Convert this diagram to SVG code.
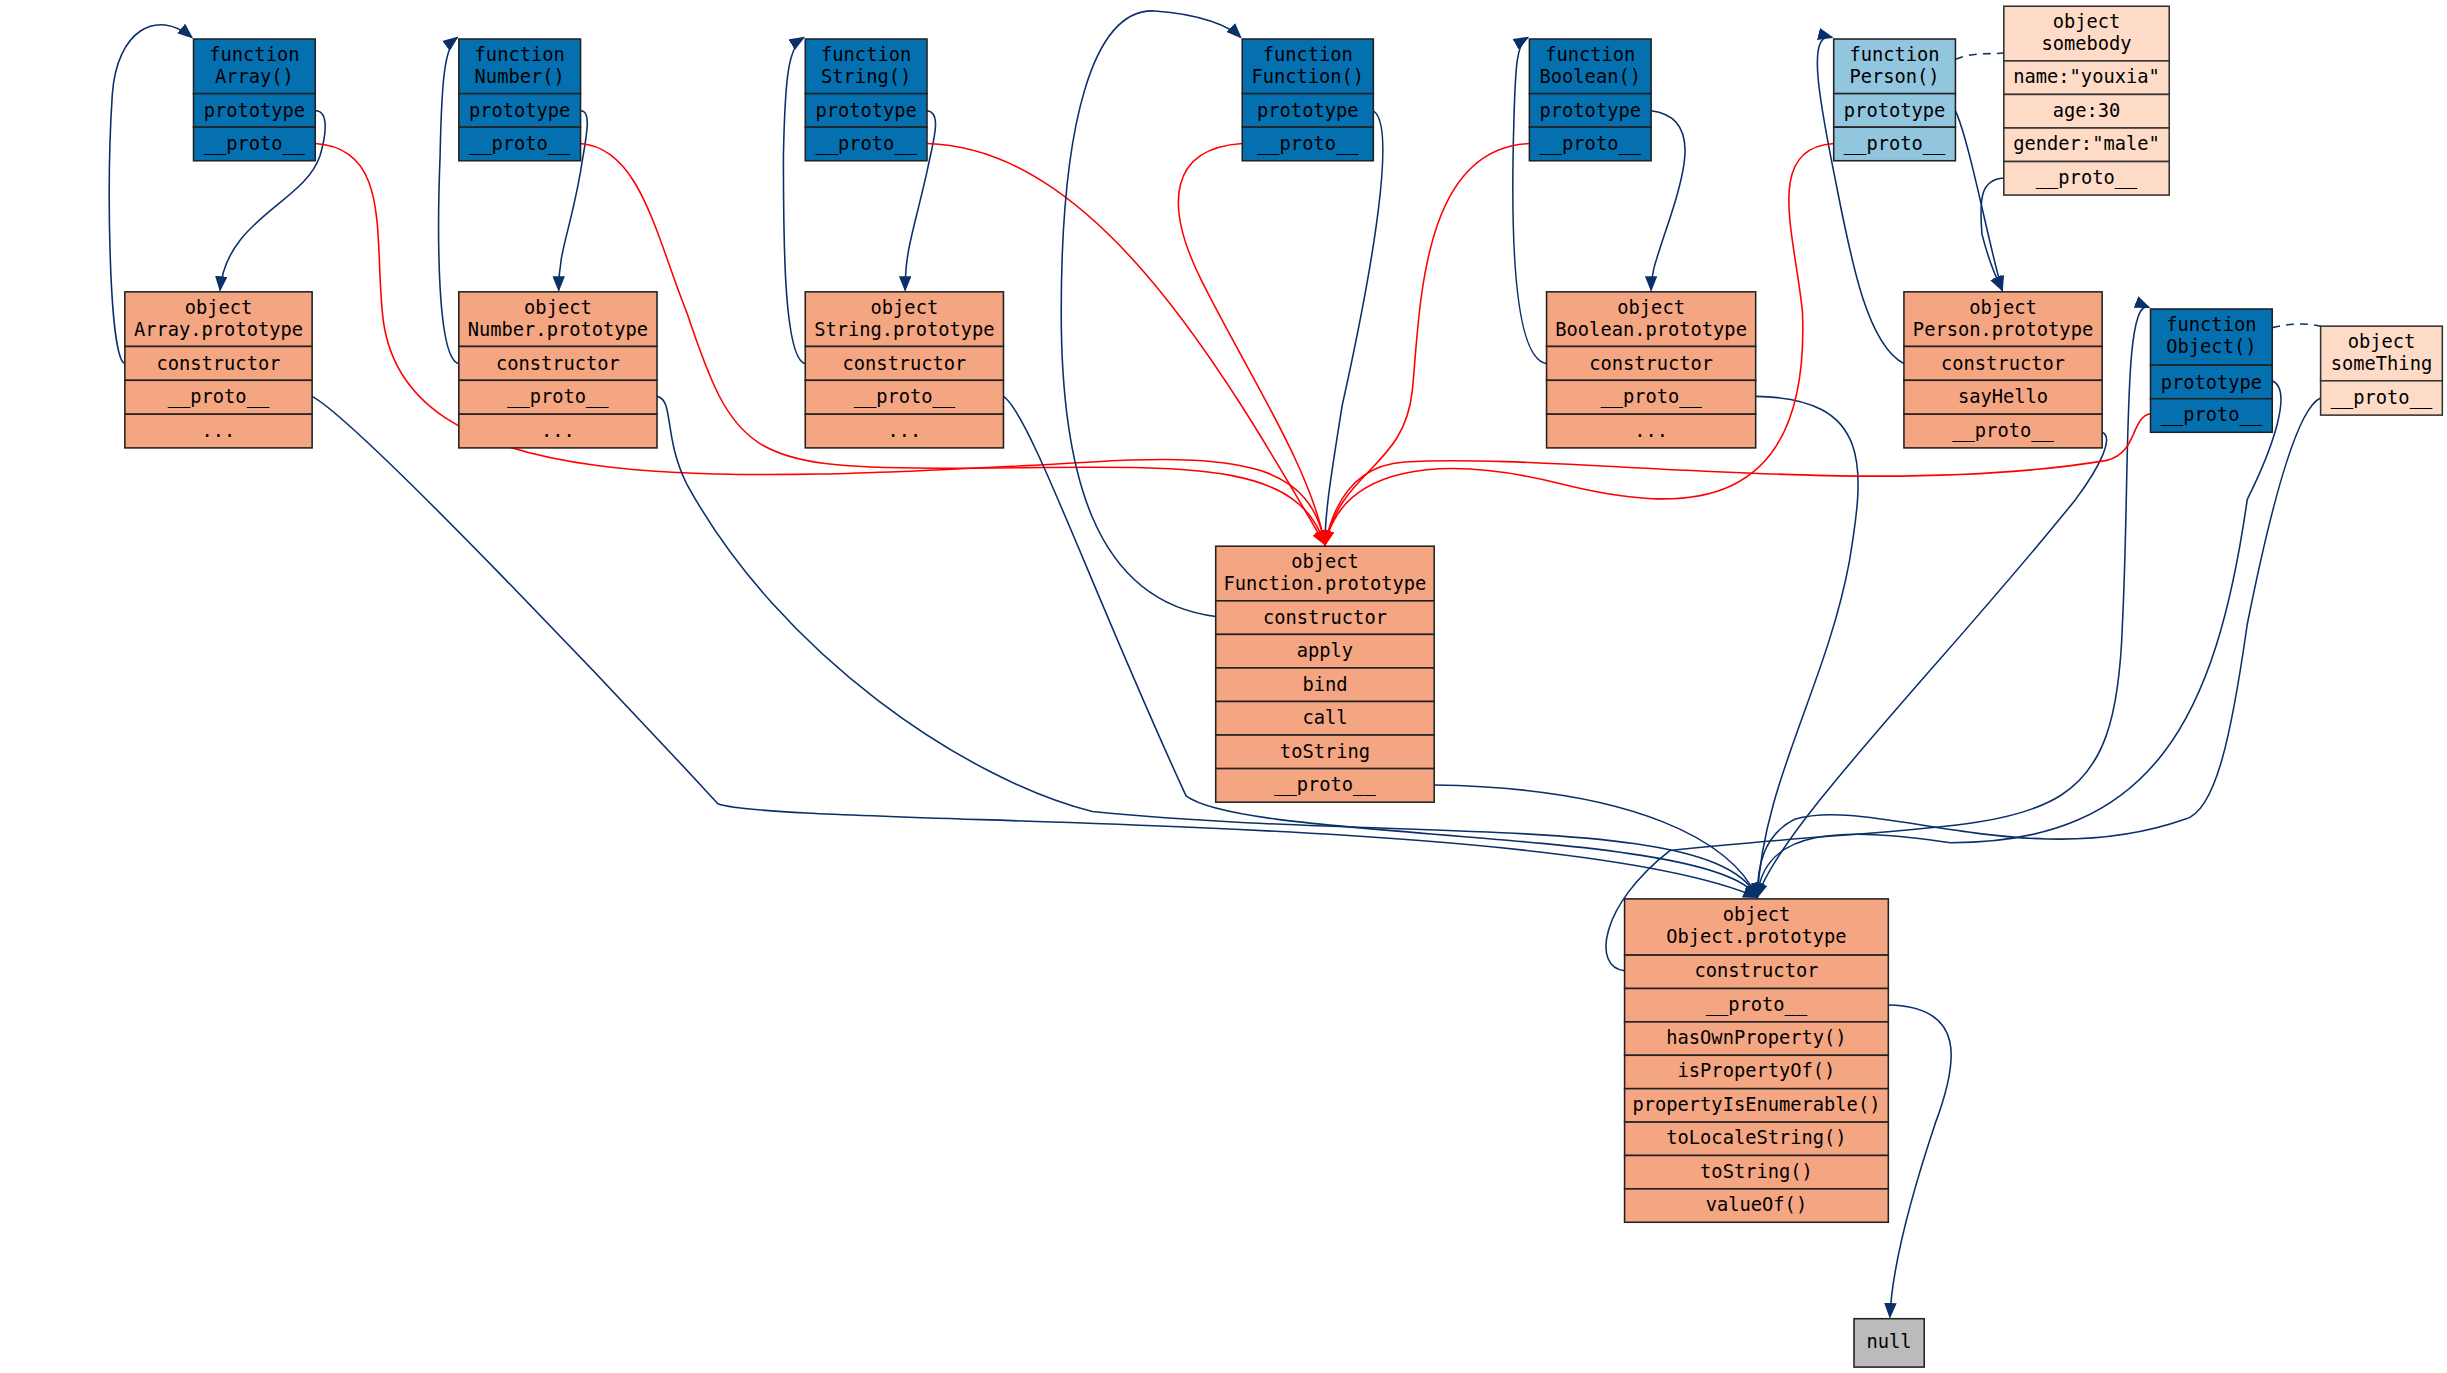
<svg xmlns="http://www.w3.org/2000/svg" width="2447" height="1373" viewBox="0 0 2447 1373">
<style>
text{font-family:"DejaVu Sans Mono","Liberation Mono",monospace;font-size:12px;text-anchor:middle;fill:#000}
.fn rect{fill:#0570b0;stroke:#222;stroke-width:1}
.fl rect{fill:#92c5de;stroke:#222;stroke-width:1}
.ob rect{fill:#f4a582;stroke:#222;stroke-width:1}
.ol rect{fill:#fddbc7;stroke:#333;stroke-width:1}
.nl rect{fill:#bbbbbb;stroke:#222;stroke-width:1}
.e{fill:none;stroke:#0a3069;stroke-width:1}
.r{fill:none;stroke:#ff0000;stroke-width:1}
.d{fill:none;stroke:#0a3069;stroke-width:1;stroke-dasharray:5,4}
</style>
<defs>
<marker id="a" markerWidth="10" markerHeight="8" refX="9" refY="4" orient="auto" markerUnits="userSpaceOnUse"><path d="M0,0L10,4L0,8z" fill="#0a3069"/></marker>
<marker id="ar" markerWidth="10" markerHeight="8" refX="9" refY="4" orient="auto" markerUnits="userSpaceOnUse"><path d="M0,0L10,4L0,8z" fill="#ff0000"/></marker>
</defs>
<rect width="2447" height="1373" fill="#fff"/>
<g transform="scale(1.5606)">
<g id="connectors">
<path class="e" marker-end="url(#a)" d="M202,71 C212,71 208,90 205,100 C195,130 145,140 141,186"/>
<path class="e" marker-end="url(#a)" d="M80,233 C70,230 68,120 72,60 C75,20 100,5 123,24"/>
<path class="r" marker-end="url(#ar)" d="M202,92 C250,95 240,150 245,200 C255,320 450,310 700,296 C800,290 840,300 849,349"/>
<path class="e" marker-end="url(#a)" d="M200,254 C230,270 400,450 460,515 C500,530 1000,520 1126,575"/>
<path class="e" marker-end="url(#a)" d="M372,71 C380,71 375,90 372,110 C365,150 358,160 358,186"/>
<path class="e" marker-end="url(#a)" d="M294,233 C280,230 280,150 282,100 C283,50 285,30 293,24"/>
<path class="r" marker-end="url(#ar)" d="M372,92 C410,95 420,150 440,200 C470,290 480,300 600,300 C750,300 830,290 849,349"/>
<path class="e" marker-end="url(#a)" d="M421,254 C432,256 425,280 440,310 C500,420 620,500 700,520 C900,540 1100,520 1126,575"/>
<path class="e" marker-end="url(#a)" d="M594,71 C604,72 598,90 594,110 C585,150 580,160 580,186"/>
<path class="e" marker-end="url(#a)" d="M516,233 C502,230 502,150 502,100 C503,50 505,30 515,24"/>
<path class="r" marker-end="url(#ar)" d="M594,92 C700,95 780,230 849,349"/>
<path class="e" marker-end="url(#a)" d="M643,254 C660,265 700,380 760,510 C800,540 1100,530 1126,575"/>
<path class="e" marker-end="url(#a)" d="M779,395 C700,385 680,300 680,200 C680,80 700,5 740,7 C770,9 788,17 795,24"/>
<path class="e" marker-end="url(#a)" d="M880,71 C895,80 880,170 860,260 C852,310 849,330 849,349"/>
<path class="r" marker-end="url(#ar)" d="M796,92 C750,95 745,130 770,180 C800,240 840,300 849,349"/>
<path class="e" marker-end="url(#a)" d="M1058,71 C1090,75 1080,110 1070,140 C1060,170 1058,175 1058,186"/>
<path class="e" marker-end="url(#a)" d="M991,233 C970,230 968,150 970,80 C971,40 972,28 979,24"/>
<path class="r" marker-end="url(#ar)" d="M980,92 C910,95 910,200 905,250 C900,300 860,300 849,349"/>
<path class="e" marker-end="url(#a)" d="M1125,254 C1200,255 1195,300 1185,360 C1170,440 1130,500 1126,575"/>
<path class="e" marker-end="url(#a)" d="M1253,71 C1262,90 1275,160 1283,186"/>
<path class="e" marker-end="url(#a)" d="M1220,233 C1195,220 1185,160 1175,110 C1165,60 1158,20 1174,24"/>
<path class="r" marker-end="url(#ar)" d="M1175,92 C1130,95 1150,150 1155,200 C1160,330 1080,330 1000,310 C920,290 860,300 849,349"/>
<path class="e" marker-end="url(#a)" d="M1284,114 C1270,115 1268,125 1270,150 C1275,170 1280,180 1283,186"/>
<path class="d" d="M1253,38 C1265,33 1275,35 1284,34"/>
<path class="e" marker-end="url(#a)" d="M1347,277 C1355,280 1345,300 1330,320 C1250,420 1140,530 1126,575"/>
<path class="e" marker-end="url(#a)" d="M1456,244 C1470,250 1455,290 1440,320 C1420,460 1380,540 1250,540 C1180,530 1130,530 1126,575"/>
<path class="e" marker-end="url(#a)" d="M1041,622 C1020,620 1025,580 1070,545 C1300,520 1355,550 1360,400 C1365,300 1360,190 1377,197"/>
<path class="r" marker-end="url(#ar)" d="M1378,265 C1365,268 1370,290 1350,295 C1200,320 1000,290 900,296 C870,298 855,320 849,349"/>
<path class="d" d="M1456,210 C1468,207 1478,207 1487,209"/>
<path class="e" marker-end="url(#a)" d="M1487,255 C1475,260 1460,300 1440,400 C1430,470 1420,520 1400,525 C1300,560 1200,510 1150,525 C1130,535 1126,555 1126,575"/>
<path class="e" marker-end="url(#a)" d="M919,503 C1050,505 1110,540 1126,575"/>
<path class="e" marker-end="url(#a)" d="M1210,644 C1260,645 1255,680 1240,720 C1220,780 1212,820 1211,844"/>
</g>

<g id="fnArray" class="fn"><rect x="124" y="25" width="78" height="35"/><rect x="124" y="60" width="78" height="21.5"/><rect x="124" y="81.5" width="78" height="21.5"/>
<text x="163" y="39">function</text><text x="163" y="53">Array()</text><text x="163" y="75">prototype</text><text x="163" y="96">__proto__</text></g>
<g id="fnNumber" class="fn"><rect x="294" y="25" width="78" height="35"/><rect x="294" y="60" width="78" height="21.5"/><rect x="294" y="81.5" width="78" height="21.5"/>
<text x="333" y="39">function</text><text x="333" y="53">Number()</text><text x="333" y="75">prototype</text><text x="333" y="96">__proto__</text></g>
<g id="fnString" class="fn"><rect x="516" y="25" width="78" height="35"/><rect x="516" y="60" width="78" height="21.5"/><rect x="516" y="81.5" width="78" height="21.5"/>
<text x="555" y="39">function</text><text x="555" y="53">String()</text><text x="555" y="75">prototype</text><text x="555" y="96">__proto__</text></g>
<g id="fnFunction" class="fn"><rect x="796" y="25" width="84" height="35"/><rect x="796" y="60" width="84" height="21.5"/><rect x="796" y="81.5" width="84" height="21.5"/>
<text x="838" y="39">function</text><text x="838" y="53">Function()</text><text x="838" y="75">prototype</text><text x="838" y="96">__proto__</text></g>
<g id="fnBoolean" class="fn"><rect x="980" y="25" width="78" height="35"/><rect x="980" y="60" width="78" height="21.5"/><rect x="980" y="81.5" width="78" height="21.5"/>
<text x="1019" y="39">function</text><text x="1019" y="53">Boolean()</text><text x="1019" y="75">prototype</text><text x="1019" y="96">__proto__</text></g>
<g id="fnPerson" class="fl"><rect x="1175" y="25" width="78" height="35"/><rect x="1175" y="60" width="78" height="21.5"/><rect x="1175" y="81.5" width="78" height="21.5"/>
<text x="1214" y="39">function</text><text x="1214" y="53">Person()</text><text x="1214" y="75">prototype</text><text x="1214" y="96">__proto__</text></g>
<g id="fnObject" class="fn"><rect x="1378" y="198" width="78" height="36"/><rect x="1378" y="234" width="78" height="21.5"/><rect x="1378" y="255.5" width="78" height="21.5"/>
<text x="1417" y="212">function</text><text x="1417" y="226">Object()</text><text x="1417" y="249">prototype</text><text x="1417" y="270">__proto__</text></g>

<g id="somebody" class="ol"><rect x="1284" y="4" width="106" height="35"/><rect x="1284" y="39" width="106" height="21.5"/><rect x="1284" y="60.5" width="106" height="21.5"/><rect x="1284" y="82" width="106" height="21.5"/><rect x="1284" y="103.5" width="106" height="21.5"/>
<text x="1337" y="18">object</text><text x="1337" y="32">somebody</text><text x="1337" y="53">name:"youxia"</text><text x="1337" y="75">age:30</text><text x="1337" y="96">gender:"male"</text><text x="1337" y="118">__proto__</text></g>
<g id="someThing" class="ol"><rect x="1487" y="209" width="78" height="35"/><rect x="1487" y="244" width="78" height="22"/>
<text x="1526" y="223">object</text><text x="1526" y="237">someThing</text><text x="1526" y="259">__proto__</text></g>

<g id="ArrayPrototype" class="ob"><rect x="80" y="187" width="120" height="35"/><rect x="80" y="222" width="120" height="21.7"/><rect x="80" y="243.7" width="120" height="21.7"/><rect x="80" y="265.4" width="120" height="21.6"/>
<text x="140" y="201">object</text><text x="140" y="215">Array.prototype</text><text x="140" y="237">constructor</text><text x="140" y="258">__proto__</text><text x="140" y="280">...</text></g>
<g id="NumberPrototype" class="ob"><rect x="294" y="187" width="127" height="35"/><rect x="294" y="222" width="127" height="21.7"/><rect x="294" y="243.7" width="127" height="21.7"/><rect x="294" y="265.4" width="127" height="21.6"/>
<text x="357.5" y="201">object</text><text x="357.5" y="215">Number.prototype</text><text x="357.5" y="237">constructor</text><text x="357.5" y="258">__proto__</text><text x="357.5" y="280">...</text></g>
<g id="StringPrototype" class="ob"><rect x="516" y="187" width="127" height="35"/><rect x="516" y="222" width="127" height="21.7"/><rect x="516" y="243.7" width="127" height="21.7"/><rect x="516" y="265.4" width="127" height="21.6"/>
<text x="579.5" y="201">object</text><text x="579.5" y="215">String.prototype</text><text x="579.5" y="237">constructor</text><text x="579.5" y="258">__proto__</text><text x="579.5" y="280">...</text></g>
<g id="BooleanPrototype" class="ob"><rect x="991" y="187" width="134" height="35"/><rect x="991" y="222" width="134" height="21.7"/><rect x="991" y="243.7" width="134" height="21.7"/><rect x="991" y="265.4" width="134" height="21.6"/>
<text x="1058" y="201">object</text><text x="1058" y="215">Boolean.prototype</text><text x="1058" y="237">constructor</text><text x="1058" y="258">__proto__</text><text x="1058" y="280">...</text></g>
<g id="PersonPrototype" class="ob"><rect x="1220" y="187" width="127" height="35"/><rect x="1220" y="222" width="127" height="21.7"/><rect x="1220" y="243.7" width="127" height="21.7"/><rect x="1220" y="265.4" width="127" height="21.6"/>
<text x="1283.5" y="201">object</text><text x="1283.5" y="215">Person.prototype</text><text x="1283.5" y="237">constructor</text><text x="1283.5" y="258">sayHello</text><text x="1283.5" y="280">__proto__</text></g>

<g id="FunctionPrototype" class="ob"><rect x="779" y="350" width="140" height="35"/><rect x="779" y="385" width="140" height="21.5"/><rect x="779" y="406.5" width="140" height="21.5"/><rect x="779" y="428" width="140" height="21.5"/><rect x="779" y="449.5" width="140" height="21.5"/><rect x="779" y="471" width="140" height="21.5"/><rect x="779" y="492.5" width="140" height="21.5"/>
<text x="849" y="364">object</text><text x="849" y="378">Function.prototype</text><text x="849" y="400">constructor</text><text x="849" y="421">apply</text><text x="849" y="443">bind</text><text x="849" y="464">call</text><text x="849" y="486">toString</text><text x="849" y="507">__proto__</text></g>

<g id="ObjectPrototype" class="ob"><rect x="1041" y="576" width="169" height="36"/><rect x="1041" y="612" width="169" height="21.4"/><rect x="1041" y="633.4" width="169" height="21.4"/><rect x="1041" y="654.8" width="169" height="21.4"/><rect x="1041" y="676.2" width="169" height="21.4"/><rect x="1041" y="697.6" width="169" height="21.4"/><rect x="1041" y="719" width="169" height="21.4"/><rect x="1041" y="740.4" width="169" height="21.4"/><rect x="1041" y="761.8" width="169" height="21.4"/>
<text x="1125.5" y="590">object</text><text x="1125.5" y="604">Object.prototype</text><text x="1125.5" y="626">constructor</text><text x="1125.5" y="648">__proto__</text><text x="1125.5" y="669">hasOwnProperty()</text><text x="1125.5" y="690">isPropertyOf()</text><text x="1125.5" y="712">propertyIsEnumerable()</text><text x="1125.5" y="733">toLocaleString()</text><text x="1125.5" y="755">toString()</text><text x="1125.5" y="776">valueOf()</text></g>

<g id="null" class="nl"><rect x="1188" y="845" width="45" height="31"/><text x="1210.5" y="864">null</text></g>
</g>
</svg>
